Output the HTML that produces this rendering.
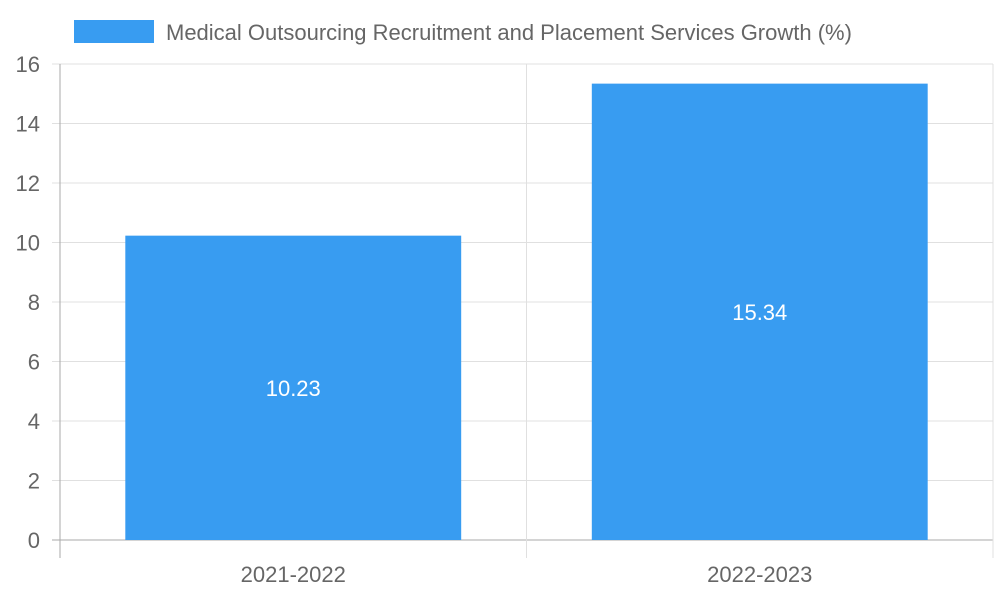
<!DOCTYPE html>
<html><head><meta charset="utf-8"><style>
body{margin:0;background:#fff;}
svg{display:block;font-family:"Liberation Sans",sans-serif;}
</style></head><body>
<svg id="chart" width="1000" height="600">
<g id="grid"></g>
<g id="bars"></g>
<g id="axes"></g>
<g>
<rect x="74" y="20" width="80" height="23" fill="#389cf1"></rect>
<text x="166" y="40" font-size="22" fill="#666">Medical Outsourcing Recruitment and Placement Services Growth (%)</text>
</g>
</svg>
<script>
const categories = ["2021-2022","2022-2023"];
const values = [10.23, 15.34];
const yTicks = [0,2,4,6,8,10,12,14,16];
const NS="http://www.w3.org/2000/svg";
const L=60,R=993,T=64,B=540,yMax=16;
const y=v=>B-(v/yMax)*(B-T);
const bw=(R-L)/categories.length;
const x=i=>L+bw*i;
function mk(tag,attrs,parent,txt){const e=document.createElementNS(NS,tag);for(const k in attrs)e.setAttribute(k,attrs[k]);if(txt!==undefined)e.textContent=txt;document.getElementById(parent).appendChild(e);return e;}
yTicks.forEach(t=>{
 const l=mk('line',{x1:52,x2:R,y1:y(t),y2:y(t),stroke:t===0?'#aaa':'#e0e0e0','stroke-width':1},'grid');
 
 
 const tx=mk('text',{x:40,y:y(t)+8,'font-size':22,fill:'#666','text-anchor':'end'},'axes',String(t));
 
 
});
for(let i=0;i<=categories.length;i++){
 const l=mk('line',{x1:x(i),x2:x(i),y1:T,y2:558,stroke:i===0?'#aaa':'#e0e0e0','stroke-width':1},'grid');
 
 
}
categories.forEach((c,i)=>{
 const w=bw*0.72,bx=x(i)+(bw-w)/2;
 const r=mk('rect',{x:bx,y:y(values[i]),width:w,height:B-y(values[i]),fill:'#389cf1'},'bars');
 
 
 const v=mk('text',{x:bx+w/2,y:(y(values[i])+B)/2+8,'font-size':22,fill:'#fff','text-anchor':'middle'},'bars',String(values[i]));
 
 
 const cl=mk('text',{x:x(i)+bw/2,y:582,'font-size':22,fill:'#666','text-anchor':'middle'},'axes',c);
 
 
});
</script>
</body></html>
